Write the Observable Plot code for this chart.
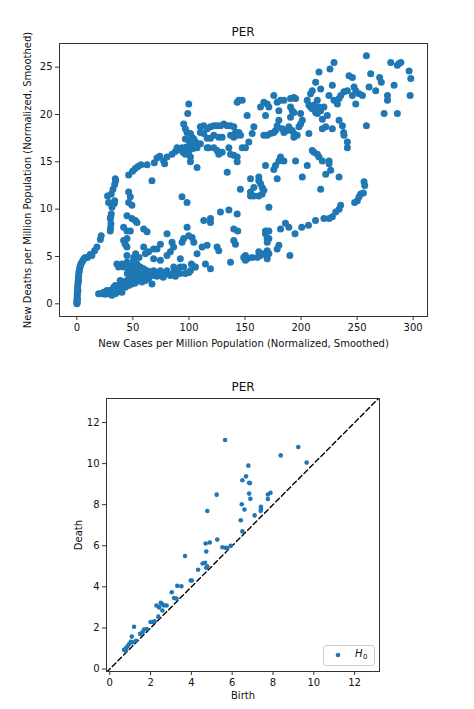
<!DOCTYPE html>
<html>
<head>
<meta charset="utf-8">
<script src="https://cdn.jsdelivr.net/npm/d3@7"></script>
<script src="https://cdn.jsdelivr.net/npm/@observablehq/plot@0.6"></script>
<style>
  html, body { margin: 0; padding: 0; background: white; }
  #wrap { position: relative; width: 474px; height: 709px; font-family: "DejaVu Sans", sans-serif; color: #111; }
  .title { position: absolute; width: 474px; text-align: center; font-size: 12px; }
  .chart { position: absolute; left: 0; }
  .legend { position: absolute; border: 1px solid #ccc; border-radius: 3px; background: white; font-size: 10px; }
</style>
</head>
<body>
<div id="wrap"></div>
<script>
// ---- Top chart: new cases vs new deaths per million (PER) ----
const topTitle = "PER";
const xLabelTop = "New Cases per Million Population (Normalized, Smoothed)";
const yLabelTop = "New Deaths per Million Population (Normalized, Smoothed)";
const xTicksTop = [0, 50, 100, 150, 200, 250, 300];
const yTicksTop = [0, 5, 10, 15, 20, 25];

const casesDeaths = [
  // near-origin strand
  [0,0],[0,0.2],[0.1,0.4],[0.2,0.6],[0.3,0.9],[0.4,1.1],[0.5,1.3],[0.6,1.6],[0.8,1.9],[1,2.2],[1.2,2.5],[1.4,2.8],[1.6,3.0],[1.8,3.3],[2.2,3.5],[2.6,3.8],[3,4.0],[3.6,4.2],[4.5,4.4],[5.5,4.6],[6.5,4.8],[7.5,4.9],[0.3,0.1],[0.6,0.5],[1.0,1.4],[1.5,2.4],
  [9.5,4.9],[11.9,5.2],[13.4,5.1],[15.8,5.6],[17.9,6.0],[20.9,6.8],[21.7,7.2],
  // rising strand near 30
  [29.8,7.7],[30.4,8.45],[29.8,9.0],[30.7,9.5],[31.3,10.2],[28.3,10.7],[27.4,11.4],[30.7,11.6],[32.2,12.1],[33.7,12.6],[34.6,13.0],[34.3,13.2],[33.4,10.6],[33.7,10.9],[30.0,8.0],[30.2,9.2],
  // upper-left arc
  [46.2,13.6],[49.7,14.0],[52.1,14.3],[54.5,14.5],[57.2,14.7],[62.6,14.7],[69.1,14.9],[71.5,15.4],[73.9,15.6],[77.4,15.1],[78.3,14.8],[80.4,15.5],[84.9,15.8],[87.9,16.1],[90.9,16.3],[93.8,16.5],[96.8,16.5],[98.3,16.6],[67,13.0],
  // cluster around 100-150, 15-19
  [95.3,19.0],[96.8,18.5],[99.8,21.1],[98.9,20.1],[98.3,18.1],[101.3,18.0],[102.8,17.6],[96.8,17.4],[99.8,17.3],[104.3,17.4],[101.3,16.9],[105.8,17.1],[107.2,16.5],[103.7,16.4],[99.8,16.0],[101.3,15.5],[101.3,15.0],[107.2,14.4],[110.2,18.7],[113.2,18.8],[116.2,18.5],[110.2,18.1],[113.2,18.0],[119.2,18.7],[122.2,18.8],[125.1,18.8],[128.1,18.8],[131.1,19.0],[134.1,18.8],[137.1,18.8],[140.0,18.7],[141.5,18.1],[143.0,17.8],[144.5,18.1],[146.0,17.8],[140.0,17.6],[137.1,17.8],[116.2,17.5],[119.2,17.5],[122.2,17.8],[126.6,17.6],[129.6,17.6],[110.2,16.9],[117.6,16.5],[122.2,16.5],[125.1,16.2],[126.6,15.8],[129.6,16.0],[135.6,16.5],[137.1,15.8],[140,15.7],[143,15.5],[143,15.0],[147.5,16.5],[150.4,16.5],[134.1,13.9],[116.2,16.5],[92.3,16.3],[89.4,16.5],[94.7,16.0],[96.8,15.8],[144.5,21.5],[147.5,21.5],[143,21.3],[151.9,19.9],[157.9,18.7],[156.4,18.0],[153.4,17.1],
  // upper right
  [163.8,20.8],[166.8,21.3],[169.8,21.1],[171.3,20.8],[168.3,19.9],[166.8,17.8],[169.8,17.8],[172.8,18.0],[175.7,18.1],[177.2,18.3],[175.7,22.0],[178.7,21.3],[181.7,21.5],[184.7,21.5],[180.2,20.4],[180.2,19.4],[178.7,18.8],[183.2,18.5],[184.7,18.1],[187.7,18.3],[190.6,21.7],[193.6,21.8],[195.1,21.7],[190.6,20.8],[192.1,20.4],[193.6,20.2],[190.6,19.7],[189.1,18.7],[192.1,18.3],[193.6,18.0],[196.6,17.8],[193.6,17.6],[198.1,18.7],[199.6,19.0],[201.1,19.4],[199.6,20.1],[205.5,21.5],[207,21.0],[208.5,20.8],[210.0,20.6],[211.5,21.0],[208.5,22.2],[210,22.5],[213.0,23.4],[216.0,24.5],[217.5,22.7],[214.5,21.5],[216.0,20.8],[213.0,20.2],[214.5,20.1],[217.5,20.4],[220.4,20.8],[223.4,19.9],[224.9,22.0],[225.8,24.8],[229.4,25.5],[227.9,23.1],[229.4,21.5],[232.4,21.1],[233.9,21.7],[235.4,22.0],[238.3,22.4],[241.3,22.5],[242.8,24.1],[245.8,23.9],[247.3,22.9],[248.8,22.5],[245.8,22.0],[248.8,21.1],[251.8,22.2],[254.8,22.0],[258.3,26.2],[258.3,18.8],[262.1,24.3],[260.7,22.9],[266.6,22.5],[270.1,23.9],[271.6,23.4],[274.1,20.1],[277.1,21.5],[277.1,22.0],[280.0,25.5],[283.0,23.1],[285.9,20.1],[285.9,25.2],[287.4,25.4],[289.0,25.5],[296.4,24.6],[297.9,23.8],[297.3,22.0],
  [233.9,19.4],[236.9,18.8],[238.0,18.1],[238.3,17.8],[241.3,17.1],[241.3,16.5],[219,18.5],[227.9,18.5],[207.0,18.0],[219,19.5],[222,18.7],
  // right middle
  [210,16.2],[211.5,16.0],[214.5,15.8],[216,15.5],[219,15.1],[225,15.1],[225,14.8],[222,13.7],[226.4,14.1],[233.9,13.4],[217.5,12.1],[205.5,14.6],[201.1,13.4],[195.1,15.1],[184.7,15.1],[181.7,15.5],[180.2,15.1],[177.2,14.6],[178.7,13.2],[175.7,14.2],[168.3,14.6],[162.3,13.4],[162.3,13.0],[163.8,12.7],[165.3,12.3],[166.8,12.0],[165.3,11.6],[162.3,11.4],[154.9,13.2],[154.9,11.8],[154.9,11.4],[157.9,11.4],[157.9,12.3],[171.3,10.2],[145.9,12.1],
  // lower right band
  [256.2,12.9],[256.8,12.5],[255.6,11.7],[253.2,11.6],[251.7,11.3],[250.2,10.9],[247.8,10.7],[235.3,10.4],[233.9,10.0],[230.9,9.7],[227.9,9.2],[225.0,9.0],[220.4,9.0],[212.9,8.8],[206.6,8.3],[200.6,8.1],[194.6,7.4],[189.1,8.1],[186.1,8.5],[181.7,7.9],[180.2,6.2],[178.7,5.8],[190,5.1],[171.3,6.9],[168.3,7.4],[168.3,7.7],[171.3,7.7],[169.8,6.9],[169.8,6.5],[169.8,5.6],[171.3,5.3],[169.8,4.75],[166.8,5.3],[163.8,5.1],[160.9,4.9],[156.4,4.9],[151.9,4.75],[150.4,5.1],[148.9,4.9],[150.4,4.6],[162.3,5.5],
  // middle lower
  [128.1,9.7],[135.6,9.9],[143,9.5],[140,7.9],[143.5,7.7],[140,6.7],[141.5,6.3],[137.1,4.4],[125.1,6.0],[126.6,5.6],[116.2,6.2],[111.7,6.0],[114.7,4.2],[119.2,3.7],[113.2,8.8],[119.2,9.0],[119.2,8.6],[98.3,8.1],[99.8,7.2],[95.3,6.9],[93.8,6.5],[102.8,7.0],[107.2,5.3],[104.3,6.5],[93.8,11.3],[98.3,10.7],[80.4,7.4],[84.9,6.5],[86.3,6.0],[83.4,5.5],[80.4,5.1],[74.5,6.3],[71.5,5.8],[68.5,5.8],[64.0,5.5],[59.6,6.0],[61.1,5.3],[55.4,4.9],[52.4,5.3],[50.8,4.9],[44.7,5.1],[44.7,6.0],[43.2,6.3],[41.7,6.7],[44.7,6.9],[44.7,7.7],[41.7,8.1],[47.7,7.7],[44.7,9.3],[46.2,10.7],[49.1,10.4],[47.7,11.3],[46.2,11.8],[49.1,9.0],[52.1,8.8],[53.6,8.6],[59.6,7.9],[62.6,7.6],[74.5,4.6],[68.5,4.75],[86.4,3.9],[86.4,3.3],[92.3,4.75],[102.2,4.2],[105.2,3.9],[96.8,3.2],[99.8,3.3],[101.3,3.5],[105.8,3.9],
  // dense lower cluster
  [19.4,1.06],[22.3,1.06],[25.3,1.0],[28.3,1.06],[31.3,0.9],[34.3,1.06],[29.8,1.4],[32.8,1.76],[35.7,1.76],[37.2,1.4],[40.2,1.6],[43.2,1.76],[46.2,1.94],[49.1,2.1],[38.7,1.94],[34.3,1.94],[41.7,2.3],[44.7,2.46],[47.7,2.64],[49.1,3.0],[50.6,3.17],[52.1,3.35],[53.6,3.5],[50.6,2.46],[53.6,2.8],[55.1,3.17],[56.6,3.35],[58.1,3.0],[59.6,3.17],[62.6,2.8],[65.5,3.0],[68.5,3.0],[71.5,2.9],[74.5,3.0],[77.4,3.17],[80.4,3.17],[83.4,3.0],[86.4,3.24],[89.4,3.5],[92.3,3.9],[95.3,3.9],[46.2,3.5],[47.7,3.9],[44.7,4.05],[40.2,4.2],[35.7,4.2],[37.2,3.9],[41.7,3.9],[49.1,4.05],[52.1,3.9],[53.6,4.2],[50.6,4.6],[44.7,4.4],[56.6,3.9],[59.6,3.7],[62.6,3.5],[68.5,3.5],[71.5,3.3],[74.5,3.5],[80.4,3.5],[67.0,2.1],[55.1,2.46],[58.1,2.3],[61.1,2.46],[64.0,2.64],[38.7,2.46],[32.8,1.4],[26.8,1.4],[23.8,1.23],[35.7,1.23],[40.2,1.23],
  [52,2.2],[56,2.7],[60,2.9],[48,2.9],[45,3.2],[54,3.9],[58,3.6],[63,3.2],[66,3.4],[77,2.8],[88,2.9],[92,3.2]
];

// ---- Bottom chart: persistence diagram (H0) ----
const bottomTitle = "PER";
const xLabelBottom = "Birth";
const yLabelBottom = "Death";
const ticksBottom = [0, 2, 4, 6, 8, 10, 12];

const h0Pairs = [
  [5.65,11.15],[9.24,10.81],[9.65,10.05],[8.38,10.4],[6.79,9.9],[6.68,9.38],[6.5,9.19],[6.83,9.07],[6.87,9.05],[6.83,8.54],[6.89,8.29],[5.24,8.49],[6.47,8.02],[6.6,7.77],[4.78,7.69],[7.1,7.48],[7.41,7.9],[7.41,7.8],[7.4,7.7],[7.75,8.5],[7.88,8.58],[7.75,8.28],[6.42,7.24],[6.5,6.7],[5.27,6.3],[4.7,6.11],[4.9,6.16],[4.73,5.72],[5.52,5.93],[5.68,5.9],[5.76,5.89],[5.93,6.0],[3.69,5.5],[4.55,5.14],[4.67,5.17],[4.73,4.93],[4.78,5.0],[4.33,4.83],[3.97,4.31],[4.02,4.31],[3.31,4.05],[3.51,4.03],[3.04,3.74],[3.15,3.46],[3.27,3.43],[2.29,3.09],[2.5,3.22],[2.58,3.15],[2.42,3.0],[2.66,3.09],[2.79,3.09],[2.38,2.55],[2.58,2.85],[2.0,2.29],[2.1,2.29],[2.2,2.32],[1.68,1.92],[1.81,1.95],[1.49,1.71],[1.6,1.79],[1.19,2.06],[1.08,1.58],[1.29,1.38],[0.95,1.22],[1.03,1.33],[1.11,1.3],[0.87,1.11],[0.8,1.02],[0.7,0.94],[0.78,0.89]
];

const blue = "#1f77b4";
const wrap = document.getElementById("wrap");

function addDiv(cls, html, style) {
  const d = document.createElement("div");
  d.className = cls;
  d.innerHTML = html;
  Object.assign(d.style, style);
  wrap.appendChild(d);
  return d;
}

// Top chart
const topChart = Plot.plot({
  width: 474, height: 360,
  marginLeft: 59, marginRight: 47, marginTop: 43, marginBottom: 44,
  x: {domain: [-15.5, 312.8]},
  y: {domain: [-1.34, 27.5]},
  style: {fontFamily: "DejaVu Sans", fontSize: "10px", color: "#111", background: "white", overflow: "visible"},
  marks: [
    Plot.dot(casesDeaths, {x: d => d[0], y: d => d[1], r: 3.5, fill: blue, stroke: "none"}),
    Plot.frame({stroke: "#333"}),
    Plot.axisX({ticks: xTicksTop, tickSize: 4, tickPadding: 3, stroke: "#333", label: xLabelTop, labelAnchor: "center", labelArrow: "none", labelOffset: 30}),
    Plot.axisY({ticks: yTicksTop, tickSize: 4, tickPadding: 3, stroke: "#333", label: yLabelTop, labelAnchor: "center", labelArrow: "none", labelOffset: 36})
  ]
});
topChart.classList.add("chart");
topChart.style.top = "0px";
wrap.appendChild(topChart);
addDiv("title", topTitle, {top: "25px", left: "6px"});

// Bottom chart
const diag = [[-0.15, -0.15], [13.3, 13.3]];
const bottomChart = Plot.plot({
  width: 474, height: 349,
  marginLeft: 106, marginRight: 95, marginTop: 38, marginBottom: 38,
  x: {domain: [-0.16, 13.22]},
  y: {domain: [-0.12, 13.17]},
  style: {fontFamily: "DejaVu Sans", fontSize: "10px", color: "#111", background: "white", overflow: "visible"},
  marks: [
    Plot.line(diag, {x: d => d[0], y: d => d[1], stroke: "black", strokeWidth: 1.4, strokeDasharray: "5,3", clip: true}),
    Plot.dot(h0Pairs, {x: d => d[0], y: d => d[1], r: 2.3, fill: blue, stroke: "none"}),
    Plot.frame({stroke: "#333"}),
    Plot.axisX({ticks: ticksBottom, tickSize: 4, tickPadding: 3, stroke: "#333", label: xLabelBottom, labelAnchor: "center", labelArrow: "none", labelOffset: 27}),
    Plot.axisY({ticks: ticksBottom, tickSize: 4, tickPadding: 3, stroke: "#333", label: yLabelBottom, labelAnchor: "center", labelArrow: "none", labelOffset: 32})
  ]
});
bottomChart.classList.add("chart");
bottomChart.style.top = "360px";
wrap.appendChild(bottomChart);
addDiv("title", bottomTitle, {top: "380px", left: "6px"});

// Legend
addDiv("legend", `<svg width="8" height="8" style="position:absolute;left:10px;top:5px"><circle cx="4" cy="4" r="2.3" fill="${blue}"/></svg><span style="position:absolute;left:31px;top:2px;font-style:italic">H</span><span style="position:absolute;left:39px;top:7px;font-size:7px">0</span>`,
  {left: "323px", top: "645px", width: "50px", height: "19px"});
</script>
</body>
</html>
